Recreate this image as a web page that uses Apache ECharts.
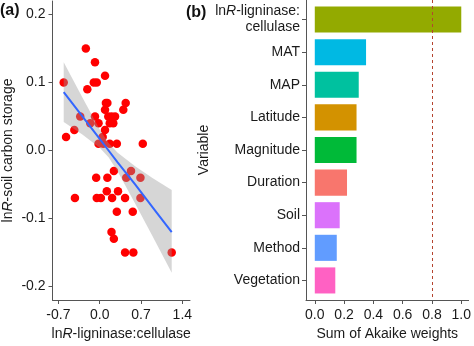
<!DOCTYPE html>
<html>
<head>
<meta charset="utf-8">
<script src="https://cdn.jsdelivr.net/npm/echarts@6/dist/echarts.min.js"></script>
<style>html,body{margin:0;padding:0;background:#fff}#c{width:474px;height:346px}</style>
</head>
<body>
<div id="c"></div>
<script>
// ---- Panel (a) data ----
var scatterX = [-0.235,-0.08,0.09,-0.61,-0.10,-0.05,-0.21,
  0.105,0.13,0.44,0.09,0.40,
  -0.33,-0.08,0.145,0.20,0.26,
  -0.16,-0.02,0.17,0.23,
  -0.43,0.09,
  -0.57,0.05,
  -0.02,0.06,0.17,0.29,0.73,
  0.24,0.53,
  -0.06,0.13,0.45,0.69,
  0.12,0.31,
  -0.42,-0.05,0.02,0.21,0.43,0.69,
  0.29,0.56,
  0.20,0.24,
  0.43,0.57,1.22];
var scatterY = [0.15,0.13,0.11,0.10,0.10,0.10,0.09,
  0.07,0.07,0.07,0.06,0.06,
  0.05,0.05,0.05,0.05,0.05,
  0.04,0.04,0.04,0.04,
  0.03,0.03,
  0.02,0.02,
  0.01,0.01,0.01,0.01,0.01,
  -0.03,-0.03,
  -0.04,-0.04,-0.04,-0.04,
  -0.06,-0.06,
  -0.07,-0.07,-0.07,-0.07,-0.07,-0.07,
  -0.09,-0.09,
  -0.12,-0.13,
  -0.15,-0.15,-0.15];
var fitX     = [-0.61, -0.3, 0, 0.15, 0.3, 0.6, 0.9, 1.22];
var fitY     = [0.086, 0.051, 0.017, 0.000, -0.017, -0.050, -0.084, -0.120];
var bandLow  = [0.042, 0.024, 0.004, -0.010, -0.030, -0.078, -0.127, -0.180];
var bandHigh = [0.130, 0.079, 0.031, 0.011, -0.003, -0.023, -0.041, -0.058];
var ticksAX = [-0.7, 0.0, 0.7, 1.4];
var ticksAY = [-0.2, -0.1, 0.0, 0.1, 0.2];

// ---- Panel (b) data ----
var variables = ['lnR-ligninase:cellulase','MAT','MAP','Latitude','Magnitude','Duration','Soil','Method','Vegetation'];
var weights   = [1.0, 0.35, 0.30, 0.285, 0.285, 0.22, 0.17, 0.15, 0.14];
var ticksBX   = [0.0, 0.2, 0.4, 0.6, 0.8, 1.0];
var threshold = 0.8;

var barColors = ['#93AA00','#00B9E3','#00C19F','#D39200','#00BA38','#F8766D','#DB72FB','#619CFF','#FF61C3'];

var FONT = 'Liberation Sans, Arial, sans-serif';
var AX = '#555';
var TXT = '#1a1a1a';
function rs(extra){ var o={fontFamily:FONT,fontSize:14,color:TXT}; for(var k in extra)o[k]=extra[k]; return o; }

var chart = echarts.init(document.getElementById('c'), null, {renderer:'canvas'});

var scatterData = scatterX.map(function(x,i){return [x, scatterY[i]];});
var bandData = fitX.map(function(x,i){return [x, bandLow[i], bandHigh[i]];});
var fitData = fitX.map(function(x,i){return [x, fitY[i]];});
var barData = weights.map(function(w,i){return {value:[w,i], itemStyle:{color:barColors[i]}};});

var option = {
  animation:false,
  backgroundColor:'#fff',
  textStyle:{fontFamily:FONT},
  graphic:[
    {type:'text', left:0, top:3, style:{text:'(a)', font:'bold 16px '+FONT, fill:'#111'}},
    {type:'text', left:186, top:5, style:{text:'(b)', font:'bold 16px '+FONT, fill:'#111'}}
  ],
  grid:[
    {left:52.5, top:1, width:137.5, height:306},
    {left:306, top:0, width:165.5, height:307}
  ],
  xAxis:[
    {gridIndex:0, type:'value', min:-0.8, max:1.53,
     axisLine:{show:true, onZero:false, lineStyle:{color:AX, width:1}},
     axisTick:{show:true, length:4, lineStyle:{color:AX}, customValues:ticksAX},
     axisLabel:{customValues:ticksAX, margin:8, fontSize:14, fontFamily:FONT, color:TXT,
       formatter:function(v){return v.toFixed(1);}},
     splitLine:{show:false},
     name:'{n|ln}{i|R}{n|-ligninase:cellulase}', nameLocation:'middle', nameGap:27,
     nameTextStyle:{rich:{n:rs({}), i:rs({fontStyle:'italic'})}}
    },
    {gridIndex:1, type:'value', min:-0.06, max:1.05,
     axisLine:{show:true, onZero:false, lineStyle:{color:AX, width:1}},
     axisTick:{show:true, length:4, lineStyle:{color:AX}, customValues:ticksBX},
     axisLabel:{customValues:ticksBX, margin:8, fontSize:14, fontFamily:FONT, color:TXT,
       formatter:function(v){return v.toFixed(1);}},
     splitLine:{show:false},
     name:'Sum of Akaike weights', nameLocation:'middle', nameGap:27,
     nameTextStyle:rs({})
    }
  ],
  yAxis:[
    {gridIndex:0, type:'value', min:-0.22, max:0.22,
     axisLine:{show:true, onZero:false, lineStyle:{color:AX, width:1}},
     axisTick:{show:true, length:4, lineStyle:{color:AX}, customValues:ticksAY},
     axisLabel:{customValues:ticksAY, margin:7, fontSize:14, fontFamily:FONT, color:TXT,
       formatter:function(v){return v.toFixed(1);}},
     splitLine:{show:false},
     name:'{n|ln}{i|R}{n|-soil carbon storage}', nameLocation:'middle', nameGap:37,
     nameTextStyle:{rich:{n:rs({}), i:rs({fontStyle:'italic'})}}
    },
    {gridIndex:1, type:'value', inverse:true, min:-0.6, max:8.6,
     axisLine:{show:true, onZero:false, lineStyle:{color:AX, width:1}},
     axisTick:{show:true, length:4, lineStyle:{color:AX}, customValues:[0,1,2,3,4,5,6,7,8]},
     axisLabel:{customValues:[0,1,2,3,4,5,6,7,8], margin:6,
       formatter:function(v){
         var s = variables[Math.round(v)];
         if (s.indexOf('lnR-')===0) {
           return '{n|ln}{i|R}{n|-ligninase:}\n{n|cellulase}';
         }
         return '{n|'+s+'}';
       },
       rich:{n:rs({align:'right', lineHeight:16}), i:rs({fontStyle:'italic', align:'right', lineHeight:16})}
     },
     splitLine:{show:false},
     name:'Variable', nameLocation:'middle', nameGap:85,
     nameTextStyle:rs({})
    }
  ],
  series:[
    {type:'scatter', xAxisIndex:0, yAxisIndex:0, data:scatterData, symbolSize:8.5,
     itemStyle:{color:'#FF0000', opacity:1}, z:2},
    {type:'custom', xAxisIndex:0, yAxisIndex:0, data:bandData, encode:{x:0, y:[1,2]}, z:3,
     renderItem:function(params, api){
       if (params.dataIndex !== 0) return null;
       var pts = [];
       for (var i=0;i<bandData.length;i++) pts.push(api.coord([bandData[i][0], bandData[i][2]]));
       for (var j=bandData.length-1;j>=0;j--) pts.push(api.coord([bandData[j][0], bandData[j][1]]));
       return {type:'polygon', shape:{points:pts}, style:{fill:'rgba(153,153,153,0.4)'}};
     }
    },
    {type:'line', xAxisIndex:0, yAxisIndex:0, data:fitData, showSymbol:false, symbol:'none',
     lineStyle:{color:'#3366FF', width:2}, z:4},
    {type:'custom', xAxisIndex:1, yAxisIndex:1, data:barData, encode:{x:0, y:1},
     renderItem:function(params, api){
       var v = api.value(0), idx = api.value(1);
       var p0 = api.coord([0, idx]);
       var p1 = api.coord([v, idx]);
       var h = Math.abs(api.size([0, 0.8])[1]);
       return {type:'rect', shape:{x:p0[0], y:p0[1]-h/2, width:p1[0]-p0[0], height:h},
         style:{fill:api.visual('color')}};
     },
     z:2
    },
    {type:'line', xAxisIndex:1, yAxisIndex:1, data:[], z:5,
     markLine:{silent:true, symbol:'none', label:{show:false},
       lineStyle:{color:'#b5442f', type:[3,3], width:1},
       data:[{xAxis:threshold}]}
    }
  ]
};
chart.setOption(option);
</script>
</body>
</html>
